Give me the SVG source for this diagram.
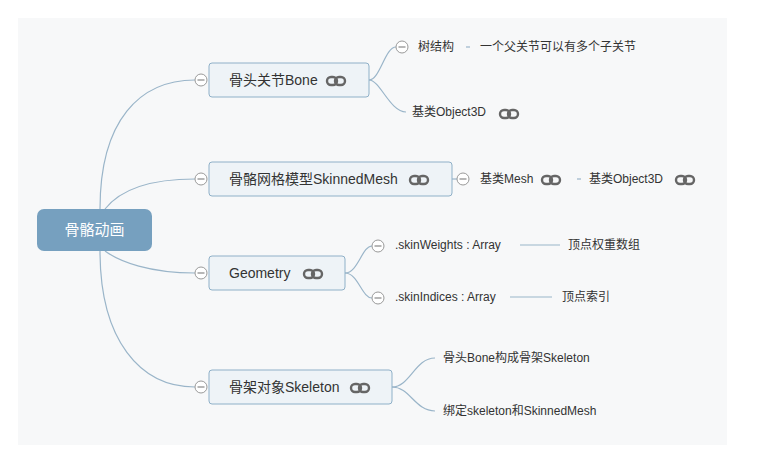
<svg xmlns="http://www.w3.org/2000/svg" width="757" height="470" viewBox="0 0 757 470">
<defs>
<g id="link"><rect x="0" y="-4" width="10" height="8" rx="4" fill="none" stroke="#666" stroke-width="2.4"/><rect x="8" y="-4" width="10" height="8" rx="4" fill="none" stroke="#666" stroke-width="2.4"/></g>
<g id="col"><circle r="6" fill="#fff" stroke="#999" stroke-width="1"/><line x1="-3.5" y1="0" x2="3.5" y2="0" stroke="#888" stroke-width="1.2"/></g>
</defs>
<style>
.n{fill:#eef3f7;stroke:#8fb0c8;stroke-width:1}
.t{font-family:"Liberation Sans","Noto Sans CJK SC",sans-serif;fill:#333}
.b{font-size:14px}.s{font-size:12px}
.c{fill:none;stroke:#9ab5c9;stroke-width:1.2}
</style>
<rect width="757" height="470" fill="#fff"/>
<rect x="18" y="18" width="709" height="427" fill="#f7f8f9"/>
<g id="connectors">
<path class="c" d="M100 209 C100 120 140 80 195 80"/>
<path class="c" d="M105 209 C120 190 150 179 195 179"/>
<path class="c" d="M105 251 C120 262 150 273 195 273"/>
<path class="c" d="M100 251 C100 340 140 387 195 387"/>
<path class="c" d="M369 80 C380 80 385 47 396 47"/>
<path class="c" d="M369 80 C380 80 390 112 406 112"/>
<path class="c" d="M452 179 L457 179"/>
<path class="c" d="M577 179 L581 179"/>
<path class="c" d="M466 47 L470 47"/>
<path class="c" d="M345 273 C358 273 362 246 372 246"/>
<path class="c" d="M345 273 C358 273 362 298 372 298"/>
<path class="c" d="M520 245 L560 245"/>
<path class="c" d="M510 297 L552 297"/>
<path class="c" d="M392 387 C410 387 415 358 435 358"/>
<path class="c" d="M392 387 C410 387 415 411 435 411"/>
</g>
<g id="root"><rect x="37" y="209" width="115" height="42" rx="7" fill="#76a0bf"/><text x="94.5" y="235" text-anchor="middle" font-family="Liberation Sans,Noto Sans CJK SC,sans-serif" font-size="15" fill="#fff">骨骼动画</text></g>
<g id="bone"><rect class="n" x="209" y="63" width="160" height="34" rx="3"/><text class="t b" x="229" y="85">骨头关节Bone</text><use href="#link" x="327" y="81"/><use href="#col" x="201" y="80"/></g>
<g id="mesh"><rect class="n" x="209" y="162" width="243" height="34" rx="3"/><text class="t b" x="229" y="184">骨骼网格模型SkinnedMesh</text><use href="#link" x="410" y="180"/><use href="#col" x="201" y="179"/></g>
<g id="geo"><rect class="n" x="209" y="256" width="136" height="34" rx="3"/><text class="t b" x="229" y="278">Geometry</text><use href="#link" x="304" y="274"/><use href="#col" x="201" y="273"/></g>
<g id="skel"><rect class="n" x="209" y="370" width="183" height="34" rx="3"/><text class="t b" x="229" y="392">骨架对象Skeleton</text><use href="#link" x="351" y="388"/><use href="#col" x="201" y="387"/></g>
<g id="tree"><use href="#col" x="402" y="47"/><text class="t s" x="418" y="51">树结构</text><text class="t s" x="480" y="51">一个父关节可以有多个子关节</text></g>
<g id="obj1"><text class="t s" x="412" y="116">基类Object3D</text><use href="#link" x="500" y="114"/></g>
<g id="basemesh"><use href="#col" x="463" y="179"/><text class="t s" x="480" y="183">基类Mesh</text><use href="#link" x="542" y="180"/><text class="t s" x="589" y="183">基类Object3D</text><use href="#link" x="676" y="180"/></g>
<g id="weights"><use href="#col" x="378" y="246"/><text class="t s" x="395" y="249">.skinWeights : Array</text><text class="t s" x="568" y="249">顶点权重数组</text></g>
<g id="indices"><use href="#col" x="378" y="298"/><text class="t s" x="395" y="301">.skinIndices : Array</text><text class="t s" x="562" y="301">顶点索引</text></g>
<g id="sk1"><text class="t s" x="443" y="362">骨头Bone构成骨架Skeleton</text></g>
<g id="sk2"><text class="t s" x="443" y="415">绑定skeleton和SkinnedMesh</text></g>
</svg>
